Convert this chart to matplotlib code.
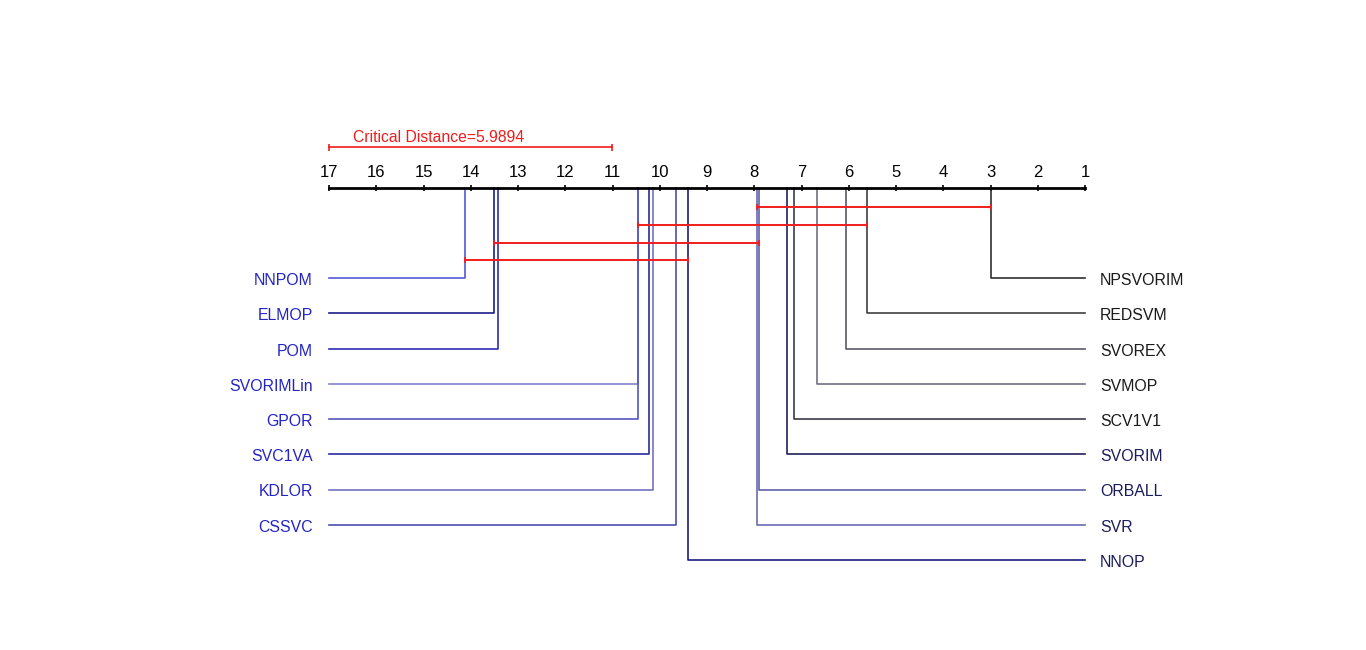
import numpy as np
import matplotlib
matplotlib.use("Agg")
import matplotlib.pyplot as plt

plt.rcParams['font.family'] = ['Liberation Sans', 'DejaVu Sans']

# average ranks (lower is better)
names_left = ["NNPOM", "ELMOP", "POM", "SVORIMLin", "GPOR",
              "SVC1VA", "KDLOR", "CSSVC"]
ranks_left = [14.12, 13.50, 13.42, 10.47, 10.45, 10.23, 10.15, 9.66]
names_right = ["NPSVORIM", "REDSVM", "SVOREX", "SVMOP", "SCV1V1",
               "SVORIM", "ORBALL", "SVR", "NNOP"]
ranks_right = [3.00, 5.62, 6.06, 6.68, 7.15, 7.30, 7.89, 7.94, 9.41]

# groups without significant difference (rank from, rank to)
clique_lo = [7.94, 10.47, 13.50, 14.12]
clique_hi = [3.00, 5.62, 7.89, 9.41]
cd = 5.9894
n_methods = 17

# line colours
col_left = ["#5858d8", "#1c1c8c", "#2c2cb0", "#8080d0", "#5454c4",
            "#2a2aa0", "#7272c8", "#4e4eb0"]
col_right = ["#303030", "#404040", "#5a5a68", "#707080", "#3c3c4c",
             "#20205c", "#6060a8", "#6a6ab8", "#1c1c88"]
lab_left = "#2424c4"
lab_right = ["#1a1a1a"] * 5 + ["#1c1c5c"] * 4
red = "#f01c1c"

fig = plt.figure(figsize=(13.66, 6.5), dpi=100)
ax = fig.add_axes([0, 0, 1, 1])
ax.set_xlim(23.963, -4.947)
ax.set_ylim(650, 0)

y_axis = 188
y_row0 = 278
row_step = 35.25
y_cl0 = 207.3
cl_step = 17.6
y_cd = 147.3

# rank axis
for s in ["left", "right", "bottom"]:
    ax.spines[s].set_visible(False)
ax.spines["top"].set_position(("data", y_axis))
ax.spines["top"].set_bounds(n_methods, 1)
ax.spines["top"].set_linewidth(2)
ax.xaxis.set_ticks_position("top")
ax.set_xticks(np.arange(1, n_methods + 1))
ax.tick_params(axis="x", direction="inout", length=4, width=1.2,
               labelsize=12, pad=4)
ax.set_yticks([])

# left side
for i, (nm, r) in enumerate(zip(names_left, ranks_left)):
    y = y_row0 + i * row_step
    ax.plot([r, r, n_methods], [y_axis, y, y], color=col_left[i], lw=1.2,
            zorder=2)
    ax.text(n_methods + 0.34, y + 1, nm, ha="right", va="center_baseline",
            fontsize=11.4, color=lab_left)

# right side
for i, (nm, r) in enumerate(zip(names_right, ranks_right)):
    y = y_row0 + i * row_step
    ax.plot([r, r, 1], [y_axis, y, y], color=col_right[i], lw=1.2,
            zorder=2)
    ax.text(1 - 0.32, y + 1, nm, ha="left", va="center_baseline",
            fontsize=11.4, color=lab_right[i])

# cliques
for j, (a, b) in enumerate(zip(clique_lo, clique_hi)):
    y = y_cl0 + j * cl_step
    ax.plot([a, b], [y, y], color=red, lw=1.4, zorder=3)
    ax.vlines([a, b], y - 3, y + 3, color=red, lw=1.2, zorder=3)

# critical distance bar
ax.plot([n_methods, n_methods - cd], [y_cd, y_cd], color=red, lw=1.2)
ax.vlines([n_methods, n_methods - cd], y_cd - 3.5, y_cd + 3.5,
          color=red, lw=1.2)
ax.text(n_methods - 0.5, y_cd - 11, "Critical Distance=%.4f" % cd,
        ha="left", va="center_baseline", fontsize=11.3, color=red)

fig.savefig("out.png", dpi=100)
